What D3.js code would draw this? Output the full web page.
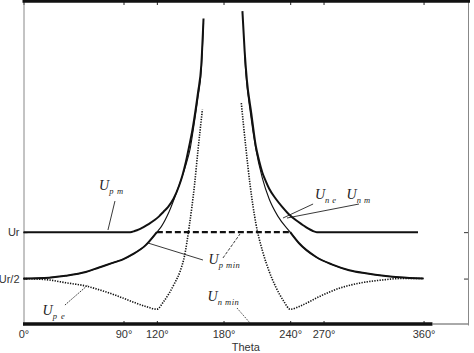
<!DOCTYPE html>
<html>
<head>
<meta charset="utf-8">
<script src="https://cdn.jsdelivr.net/npm/d3@7"></script>
<style>
  body { margin: 0; background: #fff; }
  .tick text { font-family: "Liberation Sans", Arial, sans-serif; font-size: 11px; fill: #333; }
  .note { font-family: "Liberation Serif", serif; font-style: italic; fill: #222; }
</style>
</head>
<body>
<div id="chart"></div>
<script>
// tick values
var thetaTicks = [0, 90, 120, 180, 240, 270, 360];
var yTicks = [0.5, 1];
var yTickLabels = ["Ur/2", "Ur"];

// U_pm (thick solid), left and right branch
var upmLeftTheta = [0, 96, 100, 104, 108, 113, 118, 122, 126, 130, 135, 140, 143, 146, 149, 152, 154, 157, 160, 162];
var upmLeftVal   = [1, 1, 1.012, 1.03, 1.055, 1.09, 1.13, 1.17, 1.22, 1.27, 1.36, 1.5, 1.61, 1.75, 1.92, 2.1, 2.25, 2.5, 2.8, 3.3];
var upmRightTheta = [197, 199, 201, 205, 209, 212, 215, 218, 221, 227, 233, 239, 245, 251, 256, 260, 264, 355];
var upmRightVal   = [3.38, 2.95, 2.64, 2.28, 1.93, 1.77, 1.64, 1.55, 1.47, 1.36, 1.27, 1.19, 1.13, 1.08, 1.04, 1.015, 1, 1];

// lower solid curve (U_pmin below Ur, U_ne above)
var uneLeftTheta = [0, 23, 38, 56, 68, 83, 90, 98, 110, 120, 124, 131, 139, 146, 150, 154, 157, 160, 162];
var uneLeftVal   = [0.5, 0.51, 0.53, 0.57, 0.62, 0.68, 0.71, 0.76, 0.86, 1, 1.06, 1.22, 1.47, 1.72, 1.9, 2.2, 2.45, 2.75, 3.25];
var uneRightTheta = [199, 200, 204, 209, 215, 221, 229, 240, 248, 263, 278, 293, 308, 326, 338, 360];
var uneRightVal   = [2.9, 2.72, 2.3, 1.9, 1.58, 1.36, 1.17, 1, 0.88, 0.735, 0.65, 0.59, 0.557, 0.528, 0.514, 0.5];

// U_pmin flat part (dashed)
var upminTheta = [120, 240];
var upminVal = [1, 1];

// dotted curves U_pe / U_nmin
var upeTheta = [0, 23, 38, 56, 68, 83, 98, 110, 120, 126, 131, 136, 141, 145, 149, 154, 157, 161];
var upeVal   = [0.5, 0.485, 0.455, 0.42, 0.38, 0.32, 0.25, 0.2, 0.17, 0.25, 0.34, 0.45, 0.58, 0.75, 1.05, 1.52, 1.88, 2.32];
var unminTheta = [196, 200, 204, 209, 215, 221, 227, 234, 240, 251, 266, 284, 302, 323, 338, 359];
var unminVal   = [2.39, 1.92, 1.5, 1.1, 0.8, 0.58, 0.41, 0.26, 0.17, 0.215, 0.305, 0.395, 0.45, 0.485, 0.5, 0.5];

var svgWidth = 474;
var svgHeight = 353;

var svg = d3.select("#chart")
  .append("svg")
  .attr("width", svgWidth)
  .attr("height", svgHeight);

var x = d3.scaleLinear().domain([0, 400]).range([23.5, 468]);
var y = d3.scaleLinear().domain([0, 3.5]).range([325, 0]);

// axes
var xAxisBottom = svg.append("g")
  .attr("transform", "translate(0," + y(0) + ")")
  .call(d3.axisBottom(x).tickValues(thetaTicks).tickSize(-4).tickSizeOuter(0)
    .tickPadding(5).tickFormat(function(d){ return d + "°"; }));
xAxisBottom.select(".domain").remove();
xAxisBottom.selectAll(".tick line").attr("stroke", "#222").filter(function(d){ return d === 0; }).remove();

var xAxisTop = svg.append("g")
  .attr("transform", "translate(0,0)")
  .call(d3.axisTop(x).tickValues(thetaTicks).tickSize(-5).tickSizeOuter(0).tickFormat(""));
xAxisTop.select(".domain").remove();
xAxisTop.selectAll(".tick line").attr("stroke", "#222");

var yAxisLeft = svg.append("g")
  .attr("transform", "translate(" + x(0) + ",0)")
  .call(d3.axisLeft(y).tickValues(yTicks).tickSize(-4).tickSizeOuter(0).tickPadding(4)
    .tickFormat(function(d, i){ return yTickLabels[i]; }));
yAxisLeft.select(".domain").attr("stroke", "#888");

var yAxisRight = svg.append("g")
  .attr("transform", "translate(" + x(400) + ",0)")
  .call(d3.axisRight(y).tickValues(yTicks).tickSize(-4).tickSizeOuter(0).tickFormat(""));
yAxisRight.select(".domain").attr("stroke", "#888");
yAxisRight.selectAll(".tick line").attr("stroke", "#333");

// frame lines
svg.append("line")
  .attr("x1", x(0) - 1).attr("x2", x(400) + 2)
  .attr("y1", 1.2).attr("y2", 1.2)
  .attr("stroke", "#111").attr("stroke-width", 3);
svg.append("line")
  .attr("x1", x(368)).attr("x2", x(400))
  .attr("y1", y(0) - 1).attr("y2", y(0) - 1)
  .attr("stroke", "#555").attr("stroke-width", 1);
svg.append("line")
  .attr("x1", x(0) - 0.5).attr("x2", x(368))
  .attr("y1", y(0) - 1).attr("y2", y(0) - 1)
  .attr("stroke", "#111").attr("stroke-width", 3.5);

// curves
var line = d3.line()
  .x(function(d){ return x(d[0]); })
  .y(function(d){ return y(d[1]); })
  .curve(d3.curveMonotoneX);

function drawCurve(thetas, vals, width, dash, keep) {
  var pts = d3.zip(thetas, vals);
  if (keep) pts = pts.filter(keep);
  svg.append("path")
    .datum(pts)
    .attr("d", line)
    .attr("fill", "none")
    .attr("stroke", "#111")
    .attr("stroke-width", width)
    .attr("stroke-dasharray", dash);
}

drawCurve(uneLeftTheta, uneLeftVal, 1.1, null);
drawCurve(uneRightTheta, uneRightVal, 1.1, null);
drawCurve(uneLeftTheta, uneLeftVal, 2, null, function(d){ return d[0] <= 120; });
drawCurve(uneRightTheta, uneRightVal, 2, null, function(d){ return d[0] >= 240; });
drawCurve(upmLeftTheta, upmLeftVal, 2, null);
drawCurve(upmRightTheta, upmRightVal, 2, null);
drawCurve(upminTheta, upminVal, 2.2, "6,3");
drawCurve(upeTheta, upeVal, 1.6, "1.3,1.3");
drawCurve(unminTheta, unminVal, 1.6, "1.3,1.3");

// labels with leader lines (positions in data units)
var notes = [
  { t: 68, v: 1.454, main: "U", sub: "pm", ls: 3.5 },
  { t: 262.3, v: 1.357, main: "U", sub: "ne", ls: 3 },
  { t: 290.7, v: 1.357, main: "U", sub: "nm", ls: 3 },
  { t: 166.5, v: 0.652, main: "U", sub: "p min", ls: 0.5 },
  { t: 165.6, v: 0.258, main: "U", sub: "n min", ls: 0.5 },
  { t: 17.1, v: 0.113, main: "U", sub: "pe", ls: 4 }
];
var leaders = [
  { a: [82.3, 1.335], b: [76, 1.023], dash: null },
  { a: [260.6, 1.303], b: [233.5, 1.152], dash: null },
  { a: [301.9, 1.303], b: [237.1, 1.152], dash: null },
  { a: [161.5, 0.7], b: [112, 0.883], dash: null },
  { a: [179.5, 0.722], b: [194.8, 0.98], dash: "3,1.5" },
  { a: [192.1, 0.183], b: [203.8, 0.022], dash: "1.2,1.2" },
  { a: [37.3, 0.215], b: [58, 0.431], dash: "1.5,1" }
];

leaders.forEach(function(l){
  svg.append("line")
    .attr("x1", x(l.a[0])).attr("y1", y(l.a[1]))
    .attr("x2", x(l.b[0])).attr("y2", y(l.b[1]))
    .attr("stroke", "#222").attr("stroke-width", 0.9)
    .attr("stroke-dasharray", l.dash);
});

notes.forEach(function(n){
  var t = svg.append("text")
    .attr("class", "note")
    .attr("x", x(n.t)).attr("y", y(n.v));
  t.append("tspan").attr("font-size", 14).text(n.main);
  t.append("tspan").attr("font-size", 8.5).attr("dy", 4)
    .attr("letter-spacing", n.ls).text(n.sub);
});

// axis title
svg.append("text")
  .attr("x", (x(0) + x(400)) / 2)
  .attr("y", 351)
  .attr("text-anchor", "middle")
  .style("font-family", "Liberation Sans, Arial, sans-serif")
  .style("font-size", "11px")
  .style("fill", "#333")
  .text("Theta");
</script>
</body>
</html>
